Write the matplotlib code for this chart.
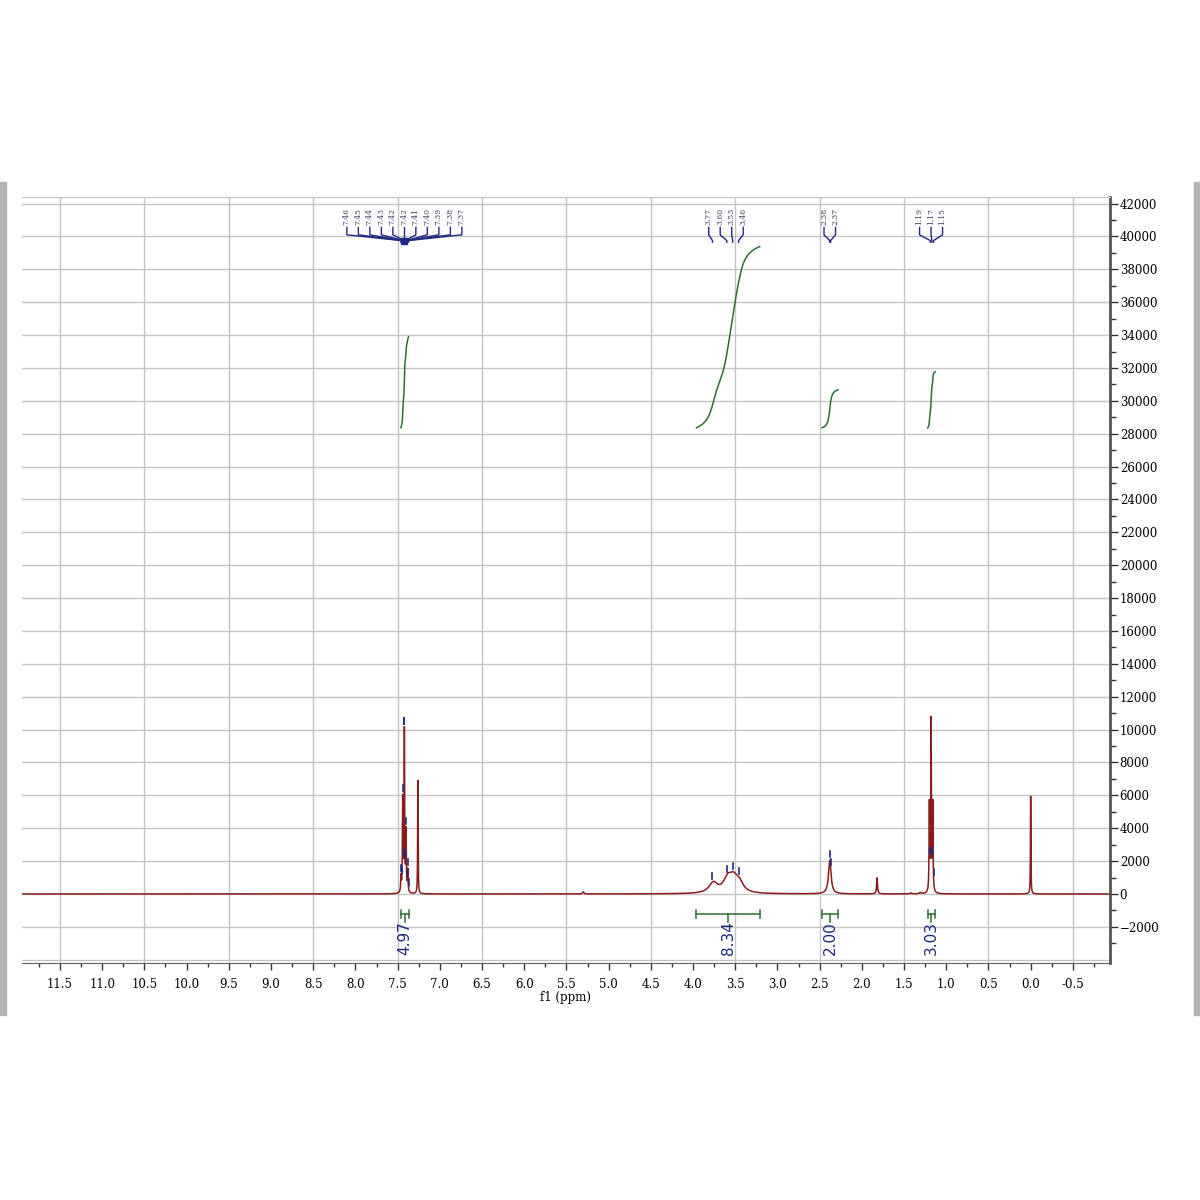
import numpy as np
import matplotlib
matplotlib.use("Agg")
import matplotlib.pyplot as plt
from matplotlib.patches import Rectangle

# peak table (ppm, height, half width)
shifts = [7.46, 7.44, 7.42, 7.40, 7.38, 7.26, 5.30, 3.76, 3.59, 3.52, 3.45,
          2.38, 1.82, 1.42, 1.31, 1.20, 1.18, 1.16, 0.00]
heights = [900, 5600, 9800, 3600, 1300, 6900, 120, 620, 780, 780, 520,
           2050, 980, 60, 80, 5300, 10400, 5300, 5950]
hwhm = [0.004, 0.004, 0.004, 0.004, 0.004, 0.003, 0.01, 0.06, 0.06, 0.06, 0.055,
        0.018, 0.006, 0.01, 0.01, 0.004, 0.004, 0.004, 0.003]

# integral regions (ppm from, ppm to), integral curve bottom/top, labels
int_from = [7.46, 3.96, 2.47, 1.22]
int_to = [7.37, 3.21, 2.28, 1.13]
int_lo = [28360, 28360, 28360, 28360]
int_hi = [33900, 39380, 30670, 31770]
int_labels = ["4.97", "8.34", "2.00", "3.03"]

# peak picking labels
pick_groups = [
    ["7.46", "7.45", "7.44", "7.43", "7.42", "7.42", "7.41", "7.40", "7.39", "7.38", "7.37"],
    ["3.77", "3.60", "3.53", "3.46"],
    ["2.38", "2.37"],
    ["1.19", "1.17", "1.15"],
]
pick_centers = [7.42, 3.61, 2.38, 1.18]

x = np.linspace(12.0, -1.0, 130001)
y = np.zeros_like(x)
for s, h, w in zip(shifts, heights, hwhm):
    y += h / (1 + ((x - s) / w) ** 2)

fig = plt.figure(figsize=(12, 12), dpi=100)
ax = fig.add_axes([22 / 1200, 1 - 963 / 1200, 1088 / 1200, 766 / 1200])

# grey side strips of the page
for xs in (0.0, 1194 / 1200):
    fig.patches.append(Rectangle((xs, 1 - 1015 / 1200), 6 / 1200, 833 / 1200,
                                 transform=fig.transFigure, color="#b4b4b4", zorder=0))

ax.set_xlim(11.95, -0.94)
ax.set_ylim(-4200, 42400)

# grid
for g in np.arange(11.5, -1.0, -1.0):
    ax.axvline(g, color="#c4c4c4", lw=1, zorder=0)
for g in np.arange(-4000, 42001, 2000):
    ax.axhline(g, color="#c4c4c4", lw=1, zorder=0)

ax.plot(x, y, color="#8b1c1c", lw=1.1, zorder=3)

# integrals
for a, b, lo, hi, lab in zip(int_from, int_to, int_lo, int_hi, int_labels):
    m = (x <= a) & (x >= b)
    cum = np.cumsum(y[m])
    cum = lo + (hi - lo) * cum / cum[-1]
    ax.plot(x[m], cum, color="#2f6e2f", lw=1.1, zorder=3)
    yb = -1220
    ax.plot([a, b], [yb, yb], color="#2f6e2f", lw=1.1)
    ax.plot([a, a], [yb - 250, yb + 250], color="#2f6e2f", lw=1.1)
    ax.plot([b, b], [yb - 250, yb + 250], color="#2f6e2f", lw=1.1)
    c = (a + b) / 2
    ax.plot([c, c], [yb, yb - 500], color="#2f6e2f", lw=1.1)
    ax.text(c, yb - 450, lab, rotation=90, ha="center", va="top",
            fontsize=11, color="#1a2a7a")

# peak picking
dppm = 11.5 / 84.4
for labs, cen in zip(pick_groups, pick_centers):
    n = len(labs)
    lx = cen + (np.arange(n) - (n - 1) / 2) * dppm * -1
    for xi, lab in zip(lx, labs):
        p = float(lab)
        ax.text(xi, 40700, lab, rotation=90, ha="center", va="bottom",
                fontsize=5.5, color="#3a3f66", family="DejaVu Serif")
        ax.plot([xi, xi, p, p], [40550, 40100, 39750, 39650],
                color="#1f2a80", lw=1)
        hp = np.interp(p, x[::-1], y[::-1])
        ax.plot([p, p], [hp + 180, hp + 550], color="#1f2a80", lw=1.2, zorder=4)
ax.plot([7.42], [39700], marker="s", ms=4, color="#1f2a80")

# axes styling
ax.spines["left"].set_visible(False)
ax.spines["top"].set_color("#c4c4c4")
ax.spines["bottom"].set_color("#606060")
ax.spines["right"].set_color("#555555")
ax.spines["right"].set_linewidth(2)
ax.yaxis.tick_right()
ax.set_yticks(np.arange(-2000, 42001, 2000))
ax.set_yticks(np.arange(-3000, 42001, 2000), minor=True)
ax.set_yticklabels([("%d" % v).replace("-", "\u2212") for v in np.arange(-2000, 42001, 2000)])
ax.set_xticks(np.arange(11.5, -0.6, -0.5))
ax.set_xticks(np.arange(11.75, -0.9, -0.25), minor=True)
ax.set_xticklabels(["%.1f" % v if abs(v) > 1e-9 else "0.0" for v in np.arange(11.5, -0.6, -0.5)])
ax.tick_params(axis="y", which="major", length=6, width=1, color="#333333", pad=1,
               labelsize=8.5, labelfontfamily="DejaVu Serif")
ax.tick_params(axis="y", which="minor", length=4, width=1, color="#333333")
ax.tick_params(axis="x", which="major", length=5, width=1, color="#333333", pad=6,
               labelsize=8.5, labelfontfamily="DejaVu Serif")
ax.tick_params(axis="x", which="minor", length=3, width=1, color="#333333")
ax.set_xlabel("f1 (ppm)", fontsize=8.5, family="DejaVu Serif", labelpad=0)

fig.savefig("out.png", dpi=100)
